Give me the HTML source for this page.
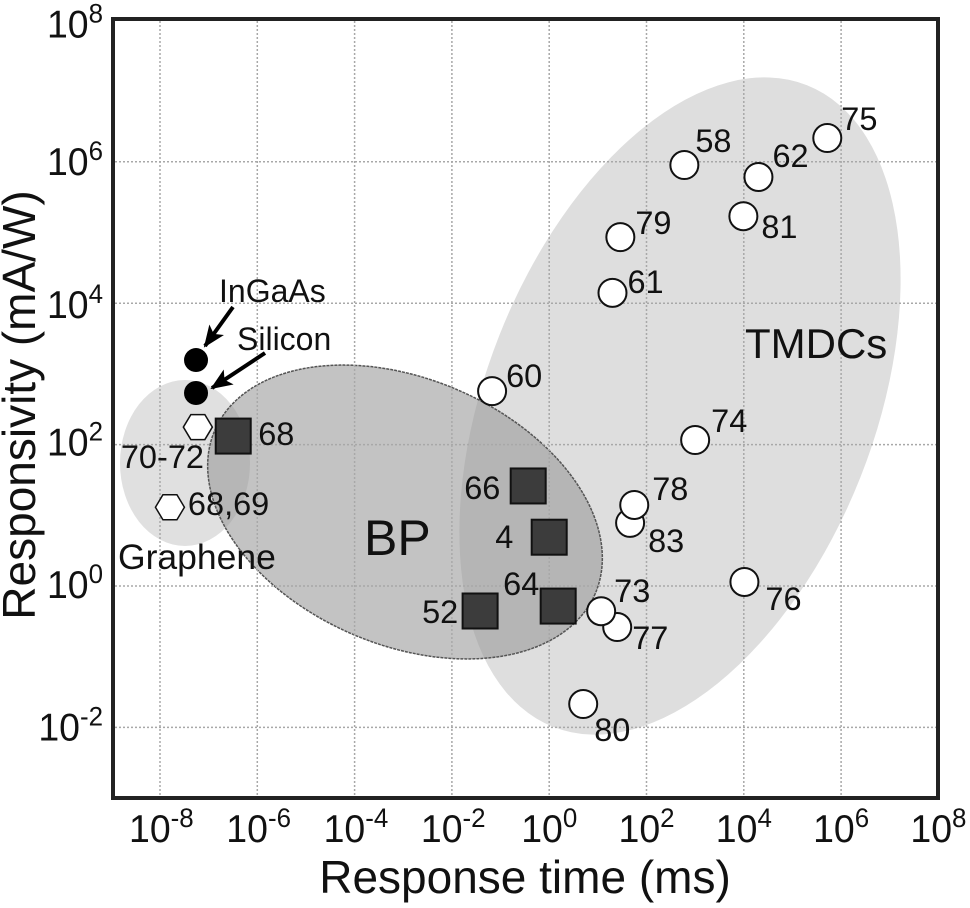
<!DOCTYPE html>
<html lang="en">
<head>
<meta charset="utf-8">
<title>Responsivity vs response time</title>
<style>
html,body{margin:0;padding:0;background:#fff;}
svg{display:block;}
text{font-family:"Liberation Sans",sans-serif;fill:#111;}
</style>
</head>
<body>
<svg id="chart" width="970" height="908" viewBox="0 0 970 908" xmlns="http://www.w3.org/2000/svg">
  <defs>
    <marker id="arrow-head" markerUnits="userSpaceOnUse" markerWidth="22" markerHeight="18" refX="20" refY="9" orient="auto">
      <path d="M0 0 L22 9 L0 18 L5 9 Z" fill="#000"></path>
    </marker>
  </defs>
  <rect x="0" y="0" width="970" height="908" fill="#fff"></rect>
  <ellipse cx="680" cy="406" rx="194" ry="345" transform="rotate(21.6 680 406)" fill="#dedede"></ellipse>
  <ellipse cx="185" cy="463" rx="65" ry="83" fill="#e0e0e0"></ellipse>
  <ellipse cx="405" cy="512" rx="207" ry="133" transform="rotate(23.2 405 512)" fill="rgb(149,149,149)" fill-opacity="0.57" stroke="#555" stroke-width="1.5" stroke-dasharray="3 1"></ellipse>
  <g id="grid"></g>
  <g id="marks"></g>
  <g id="labels"></g>
  <line x1="233" y1="307" x2="205" y2="346" stroke="#000" stroke-width="4" marker-end="url(#arrow-head)"></line>
  <line x1="265" y1="353" x2="212" y2="388" stroke="#000" stroke-width="4" marker-end="url(#arrow-head)"></line>
  <text x="219" y="302" font-size="32">InGaAs</text>
  <text x="237" y="350" font-size="32">Silicon</text>
  <text x="118" y="569" font-size="35.5">Graphene</text>
  <text x="364" y="555" font-size="50">BP</text>
  <text x="745" y="358" font-size="42">TMDCs</text>
  <rect x="113" y="19" width="825" height="779" fill="none" stroke="#222" stroke-width="4"></rect>
  <g id="ticks"></g>
  <text x="525" y="893" font-size="46" text-anchor="middle">Response time (ms)</text>
  <text x="0" y="0" font-size="46" text-anchor="middle" transform="translate(35 405) rotate(-90)">Responsivity (mA/W)</text>
</svg>
<script>
// Data (response time in ms, responsivity in mA/W)
const xTickExponents = [-8, -6, -4, -2, 0, 2, 4, 6, 8];
const yTickExponents = [-2, 0, 2, 4, 6, 8];

const tmdcRefs = ['58', '62', '75', '79', '81', '61', '60', '74', '78', '83', '73', '77', '76', '80'];
const tmdcTime = [600, 2.0e4, 5.2e5, 29, 9.8e3, 20, 0.067, 1000, 56, 46, 11.7, 25, 1.03e4, 5];
const tmdcResp = [9.0e5, 6.1e5, 2.17e6, 8.6e4, 1.7e5, 1.4e4, 570, 116, 14, 7.8, 0.44, 0.263, 1.14, 0.0214];

const bpRefs = ['68', '66', '4', '64', '52'];
const bpTime = [3.2e-7, 0.37, 1, 1.53, 0.038];
const bpResp = [132, 26, 4.9, 0.52, 0.443];

const grapheneRefs = ['70-72', '68,69'];
const grapheneTime = [6e-8, 1.6e-8];
const grapheneResp = [177, 13];

const referenceNames = ['ingaas', 'silicon'];
const referenceTime = [5.5e-8, 5.5e-8];
const referenceResp = [1570, 537];

// Axis functions (log10 scales)
function xScale(v) { return 549.2 + 48.65 * Math.log10(v); }
function yScale(v) { return 586 - 70.7 * Math.log10(v); }

const NS = 'http://www.w3.org/2000/svg';
const gridGroup = document.getElementById('grid');
const marksGroup = document.getElementById('marks');
const labelsGroup = document.getElementById('labels');
const ticksGroup = document.getElementById('ticks');

function make(tag, attrs, parent) {
  const el = document.createElementNS(NS, tag);
  for (const k in attrs) { el.setAttribute(k, attrs[k]); }
  parent.appendChild(el);
  return el;
}

// Baseline offset of each y tick label relative to its grid line
const yLabelDrop = { '8': 17, '6': 13, '4': 15, '2': 11, '0': 12, '-2': 13 };

// Grid and tick labels
xTickExponents.forEach(function (e) {
  const x = xScale(Math.pow(10, e));
  const g = make('line', { x1: x, x2: x, y1: 21, y2: 796, stroke: '#a8a8a8', 'stroke-width': 1.5, 'stroke-dasharray': '2 2' }, gridGroup);
  
  
  const lx = x + (e < 0 ? -31 : -28);
  const t = make('text', { x: 0, y: 0, 'font-size': 39, transform: 'translate(' + lx + ' 842) scale(0.96 1)' }, ticksGroup);
  
  
  t.appendChild(document.createTextNode('10'));
  const s = make('tspan', { dy: -15, 'font-size': 27 }, t);
  s.textContent = String(e);
});
yTickExponents.forEach(function (e) {
  const y = yScale(Math.pow(10, e));
  if (e < 8) {
    const g = make('line', { x1: 115, x2: 936, y1: y, y2: y, stroke: '#a8a8a8', 'stroke-width': 1.5, 'stroke-dasharray': '2 2' }, gridGroup);
    
    
  }
  const t = make('text', { x: 0, y: 0, 'font-size': 39, 'text-anchor': 'end', transform: 'translate(103 ' + (y + yLabelDrop[String(e)]) + ') scale(0.96 1)' }, ticksGroup);
  
  
  t.appendChild(document.createTextNode('10'));
  const s = make('tspan', { dy: -15, 'font-size': 27 }, t);
  s.textContent = String(e);
});

// Label placement relative to each mark: [dx, dy]
const tmdcLabelShift = { '58': [11, -13], '62': [14, -10], '75': [14, -8], '79': [15, -3], '81': [18, 22], '61': [15, 0], '60': [14, -4], '74': [16, -8], '78': [18, -5], '83': [18, 29], '73': [13, -9], '77': [15, 22], '76': [21, 28], '80': [11, 37] };
const bpLabelShift = { '68': [25, 9], '66': [-64, 13], '4': [-54, 11], '64': [-55, -11], '52': [-58, 12] };
const grapheneLabelShift = { '70-72': [-77, 41], '68,69': [18, 8] };

function addLabel(text, x, y, shift) {
  const t = make('text', { x: x + shift[0], y: y + shift[1], 'font-size': 32.5 }, labelsGroup);
  
  
  t.textContent = text;
}

// TMDC open circles (fixed order so overlaps match)
[9, 8, 11, 10].concat([0, 1, 2, 3, 4, 5, 6, 7, 12, 13]).forEach(function (i) {
  const cx = xScale(tmdcTime[i]);
  const cy = yScale(tmdcResp[i]);
  const c = make('circle', { cx: cx, cy: cy, r: 14, fill: '#fff', stroke: '#111', 'stroke-width': 2 }, marksGroup);
  
  
  addLabel(tmdcRefs[i], cx, cy, tmdcLabelShift[tmdcRefs[i]]);
});

// BP squares
bpRefs.forEach(function (ref, i) {
  const cx = xScale(bpTime[i]);
  const cy = yScale(bpResp[i]);
  const r = make('rect', { x: cx - 17.5, y: cy - 17.5, width: 35, height: 35, fill: '#3c3c3c', stroke: '#111', 'stroke-width': 2 }, marksGroup);
  
  
  addLabel(ref, cx, cy, bpLabelShift[ref]);
});

// Graphene hexagons
grapheneRefs.forEach(function (ref, i) {
  const cx = xScale(grapheneTime[i]);
  const cy = yScale(grapheneResp[i]);
  const pts = [[-14.5, 0], [-7, -12.5], [7, -12.5], [14.5, 0], [7, 12.5], [-7, 12.5]]
    .map(function (p) { return (cx + p[0]) + ',' + (cy + p[1]); }).join(' ');
  const h = make('polygon', { points: pts, fill: '#fff', stroke: '#111', 'stroke-width': 1.5 }, marksGroup);
  
  
  addLabel(ref, cx, cy, grapheneLabelShift[ref]);
});

// Reference technologies (filled circles)
referenceNames.forEach(function (name, i) {
  const c = make('circle', { cx: xScale(referenceTime[i]), cy: yScale(referenceResp[i]), r: 12, fill: '#000' }, marksGroup);
  
  
});
</script>
</body>
</html>
